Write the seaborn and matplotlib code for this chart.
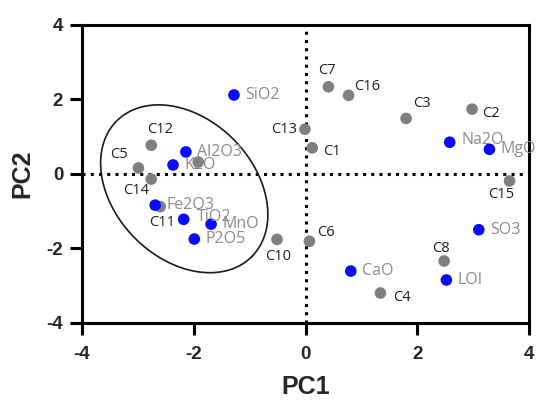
import numpy as np
import pandas as pd
import matplotlib
matplotlib.use("Agg")
import matplotlib.pyplot as plt
import seaborn as sns

# samples (grey) and oxide loadings (blue)
sample_names = ["C1", "C2", "C3", "C4", "C5", "C6", "C7", "C8", "C9",
                "C10", "C11", "C12", "C13", "C14", "C15", "C16"]
sample_pc1 = [0.12, 2.98, 1.80, 1.34, -2.99, 0.07, 0.41, 2.48, -1.92,
              -0.51, -2.60, -2.76, -0.01, -2.76, 3.65, 0.77]
sample_pc2 = [0.70, 1.74, 1.49, -3.20, 0.16, -1.81, 2.34, -2.34, 0.32,
              -1.76, -0.88, 0.77, 1.20, -0.14, -0.19, 2.11]

oxide_names = ["SiO2", "Al2O3", "K2O", "Fe2O3", "TiO2", "MnO", "P2O5",
               "CaO", "LOI", "SO3", "MgO", "Na2O"]
oxide_pc1 = [-1.28, -2.14, -2.37, -2.69, -2.18, -1.69, -1.99,
             0.81, 2.52, 3.10, 3.29, 2.58]
oxide_pc2 = [2.12, 0.59, 0.24, -0.84, -1.22, -1.35, -1.75,
             -2.61, -2.85, -1.50, 0.66, 0.85]

# hand-drawn group ellipse: centre and two half-axis vectors (data units)
ell_center = (-2.17, -0.40)
ell_u = (1.21, -1.82)
ell_v = (0.88, 1.33)

df = pd.DataFrame({
    "name": sample_names + oxide_names,
    "PC1": sample_pc1 + oxide_pc1,
    "PC2": sample_pc2 + oxide_pc2,
    "kind": ["sample"] * len(sample_names) + ["oxide"] * len(oxide_names),
})

# label offsets in pixels (dx, dy, ha)
label_pos = {
    "C1": (11, -4, "left"), "C2": (10, -4, "left"), "C3": (7, 15, "left"),
    "C4": (13, -4, "left"), "C5": (-11, 13, "right"), "C6": (8, 9, "left"),
    "C7": (-2, 16, "center"), "C8": (-3, 13, "center"),
    "C10": (1, -17, "center"), "C11": (2, -16, "center"),
    "C12": (9, 16, "center"), "C13": (-8, 0, "right"),
    "C14": (-15, -11, "center"), "C15": (-8, -14, "center"),
    "C16": (6, 9, "left"),
    "TiO2": (13, 2, "left"), "Na2O": (12, 2, "left"),
}

sns.set_style("ticks")
plt.rcParams["font.family"] = ["Liberation Sans", "DejaVu Sans"]
plt.rcParams["axes.unicode_minus"] = False

fig = plt.figure(figsize=(5.5, 4.03), dpi=100)
ax = fig.add_axes([0.149, 0.199, 0.813, 0.739])

ax.axhline(0, color="black", lw=2.2, ls=(0, (1, 1.7)), zorder=1)
ax.axvline(0, color="black", lw=2.2, ls=(0, (1, 1.7)), zorder=1)

t = np.linspace(0, 2 * np.pi, 300)
ex = ell_center[0] + ell_u[0] * np.cos(t) + ell_v[0] * np.sin(t)
ey = ell_center[1] + ell_u[1] * np.cos(t) + ell_v[1] * np.sin(t)
ax.plot(ex, ey, color="#1a1a1a", lw=1.2, zorder=2)

sns.scatterplot(data=df, x="PC1", y="PC2", hue="kind",
                palette={"sample": "#7f7f7f", "oxide": "#0a0aff"},
                s=70, edgecolor="none", legend=False, ax=ax, zorder=3)

for _, row in df.iterrows():
    if row["name"] == "C9":
        continue
    if row["kind"] == "sample":
        dx, dy, ha = label_pos.get(row["name"], (10, 0, "left"))
        ax.annotate(row["name"], (row["PC1"], row["PC2"]), xytext=(dx, dy),
                    textcoords="offset pixels", ha=ha, va="center",
                    fontsize=10.5, color="#1e1e1e", family="Open Sans",
                    zorder=4, annotation_clip=False)
    else:
        dx, dy, ha = label_pos.get(row["name"], (11, 0, "left"))
        ax.annotate(row["name"], (row["PC1"], row["PC2"]), xytext=(dx, dy),
                    textcoords="offset pixels", ha=ha, va="center",
                    fontsize=11.5, color="#8c8c8c", family="Open Sans",
                    zorder=4, annotation_clip=False)

ax.set_xlim(-4, 4)
ax.set_ylim(-4, 4)
ax.set_xticks([-4, -2, 0, 2, 4])
ax.set_yticks([-4, -2, 0, 2, 4])
for side in ["top", "right", "bottom", "left"]:
    ax.spines[side].set_linewidth(2.2)
    ax.spines[side].set_color("black")
ax.tick_params(axis="both", length=8.5, width=2.2, pad=5, labelsize=13.5,
               direction="out", color="black")
ax.tick_params(axis="x", pad=8)
for lab in ax.get_xticklabels() + ax.get_yticklabels():
    lab.set_fontweight("bold")

ax.set_xlabel("PC1", fontsize=18, fontweight="bold", labelpad=9)
ax.set_ylabel("PC2", fontsize=18, fontweight="bold", labelpad=9)

fig.savefig("out.png", dpi=100)
